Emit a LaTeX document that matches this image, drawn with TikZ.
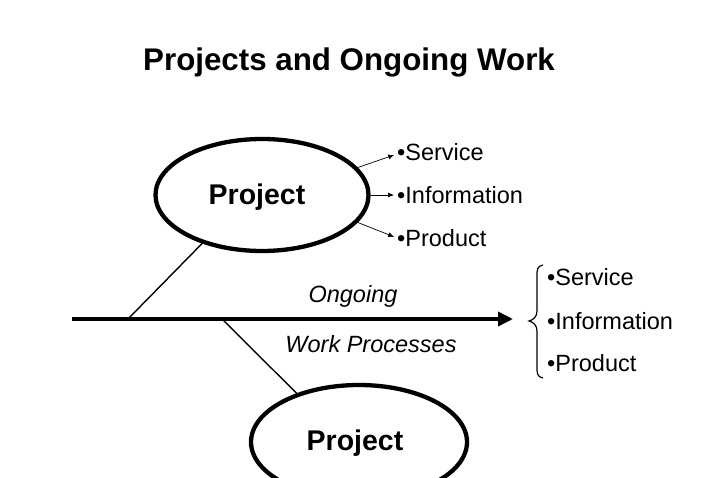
\documentclass[tikz,border=0pt]{standalone}
\usepackage{fontspec}
\setmainfont{Liberation Sans}
\usetikzlibrary{arrows.meta,shapes.geometric}
\begin{document}
\begin{tikzpicture}[x=1pt,y=-1pt,
  proj/.style={ellipse,draw,line width=4.3pt,minimum width=213pt,minimum height=112pt,inner sep=0pt,font=\fontsize{28.5}{30}\selectfont\bfseries},
  item/.style={anchor=west,inner sep=0pt,font=\fontsize{23.5}{26}\selectfont},
  lbl/.style={inner sep=0pt,font=\fontsize{23.5}{26}\selectfont\itshape},
  thin/.style={line width=1.4pt},
  small/.style={line width=0.7pt,shorten >=3pt,-{Latex[length=6pt,width=5pt]}}]
\useasboundingbox (0,0) rectangle (725,478);
\node[inner sep=0pt,font=\bfseries\fontsize{31.3}{34}\selectfont] (title) at (349,62) {Projects and Ongoing Work};
\node[proj] (p1) at (262,195) {};
\node[inner sep=0pt,font=\fontsize{28.5}{30}\selectfont\bfseries] (t1) at (257,197) {Project};
\node[proj,minimum width=216pt,minimum height=114pt] (p2) at (359,442) {};
\node[inner sep=0pt,font=\fontsize{28.5}{30}\selectfont\bfseries] (t2) at (355,443) {Project};
\coordinate (s) at (72,319);
\coordinate (e) at (513,319);
\draw[line width=3.5pt,-{Triangle[length=15pt,width=14pt]}] (s) -- (e);
\coordinate (j1) at (128,319);
\coordinate (j2) at (222,319);
\draw[thin] (j1) -- (p1.-141);
\draw[thin] (j2) -- (p2.142);
\node[lbl] (og) at (353,296) {Ongoing};
\node[lbl] (wp) at (371,344) {Work Processes};
\node[item] (a1) at (397,152) {•Service};
\node[item] (a2) at (397,195) {•Information};
\node[item] (a3) at (397,238) {•Product};
\draw[small] (p1.16) -- ([yshift=-2pt]a1.west);
\draw[small] (p1.east) -- (a2.west);
\draw[small] (p1.-16) -- (a3.west);
\node[item] (b1) at (547,277) {•Service};
\node[item] (b2) at (547,321) {•Information};
\node[item] (b3) at (547,363) {•Product};
\coordinate (bt) at (543,265);
\coordinate (bm) at (529,321);
\coordinate (bb) at (543,378);
\draw[line width=1.2pt] (bt) .. controls (537,266) and (537,270) .. (537,276)
  -- (537,311) .. controls (537,317) and (533,320) .. (bm)
  .. controls (533,322) and (537,325) .. (537,331)
  -- (537,367) .. controls (537,373) and (537,377) .. (bb);
\end{tikzpicture}
\end{document}
